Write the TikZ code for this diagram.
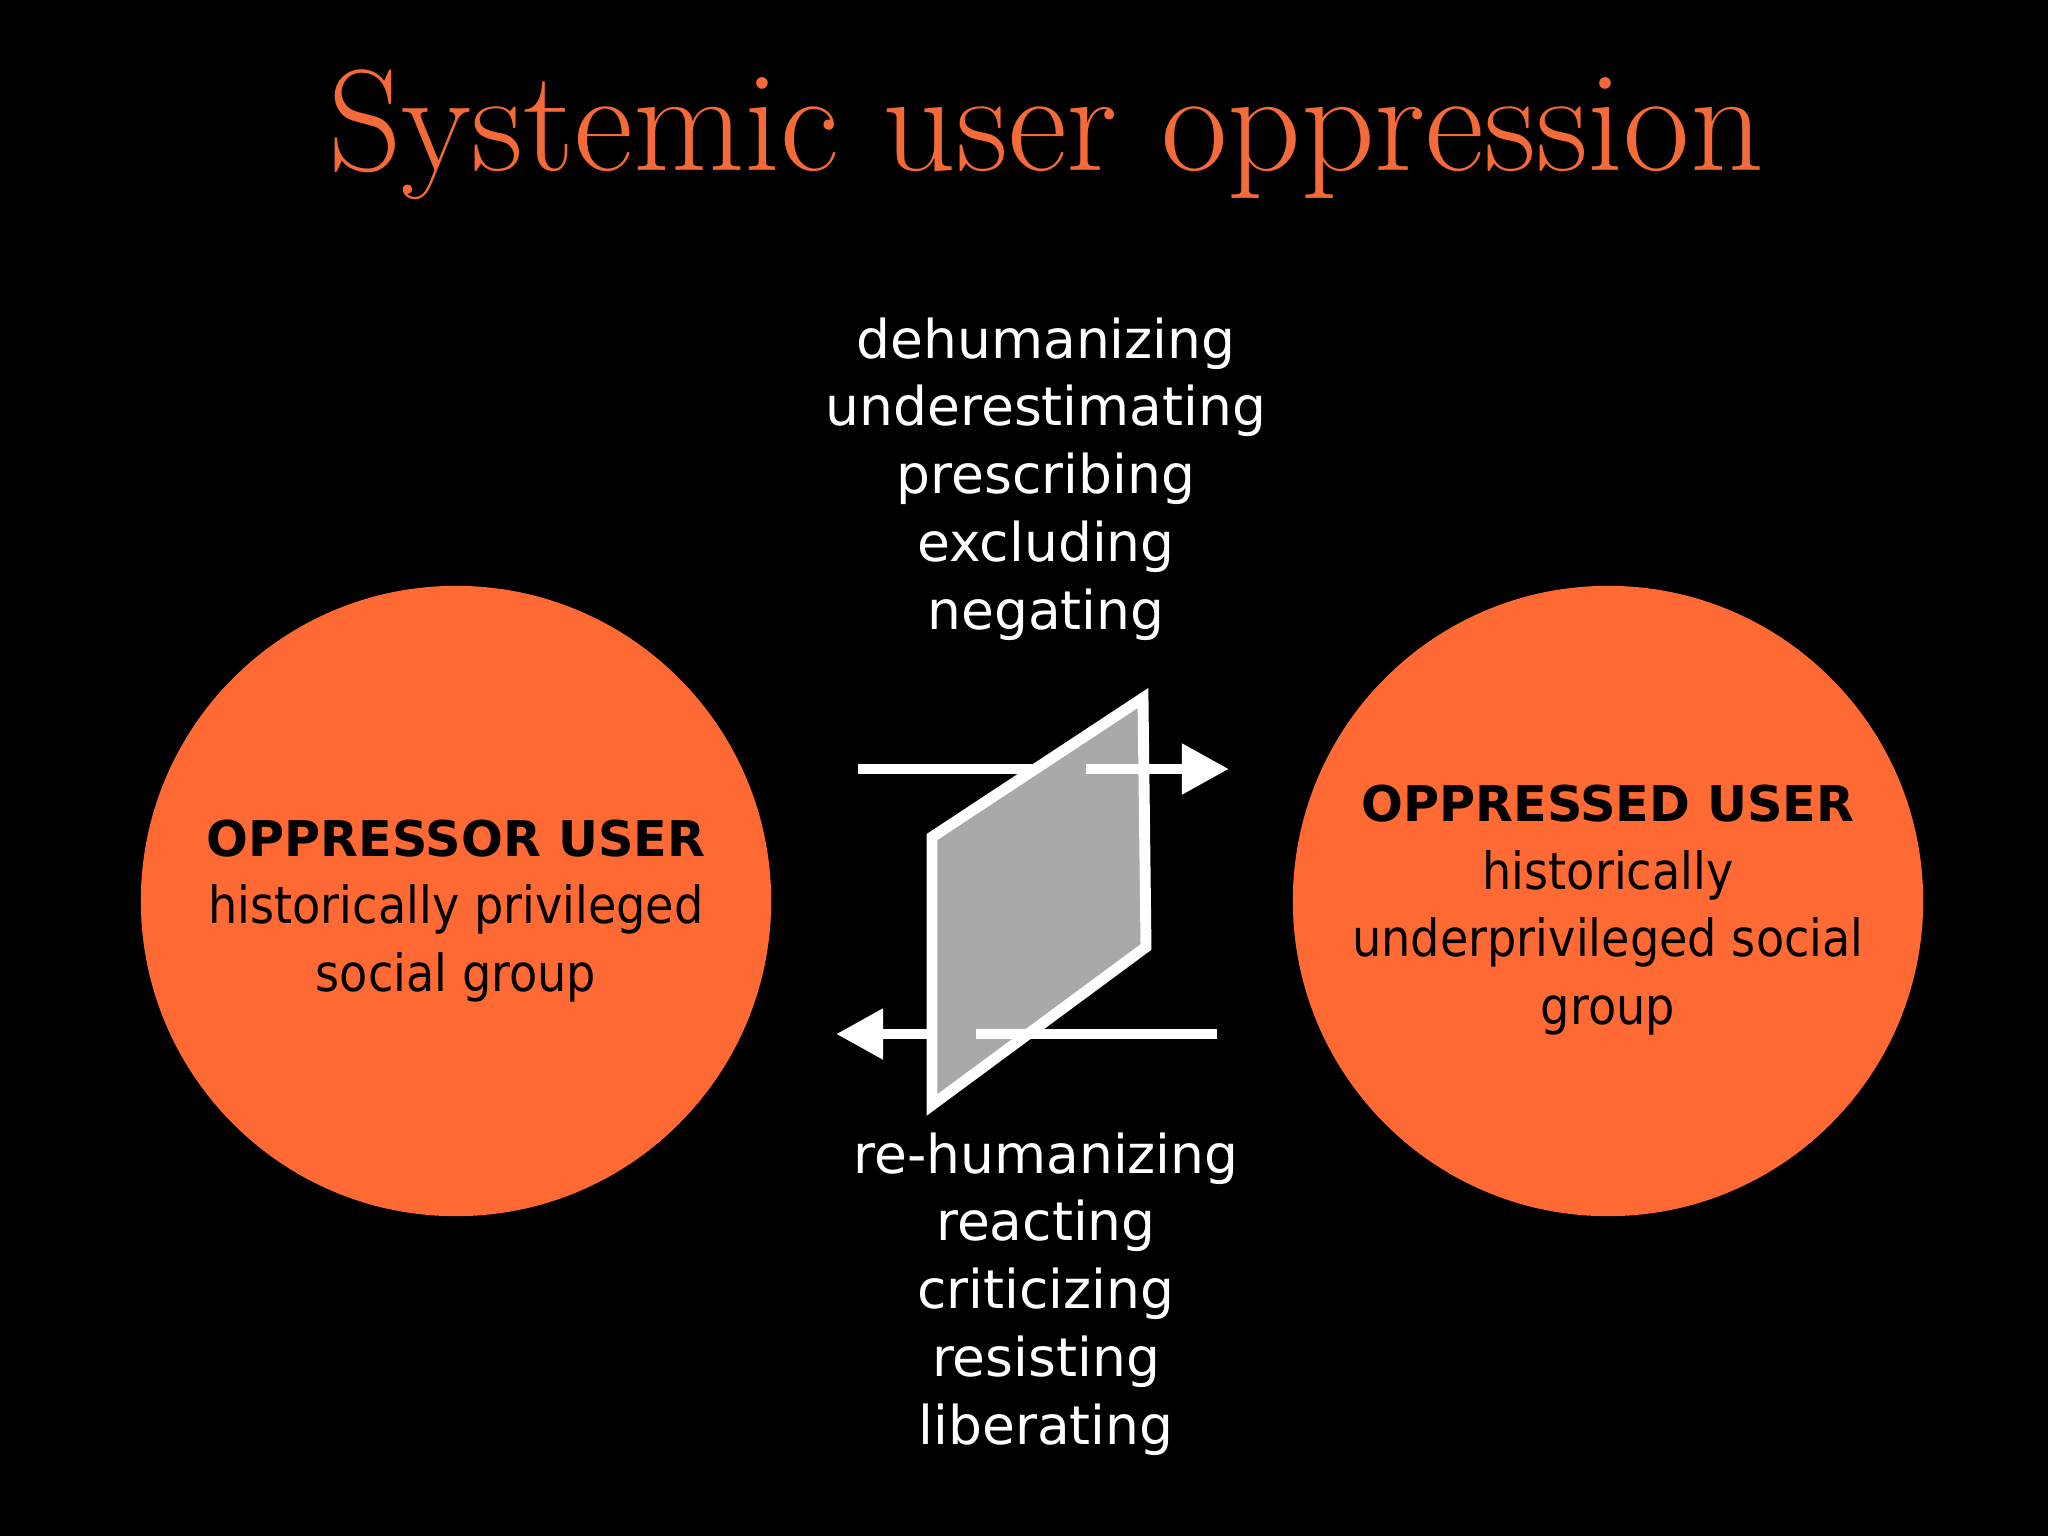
\documentclass[tikz,border=0pt]{standalone}
\usepackage{fontspec}
\newfontfamily\verdfont{DejaVu Sans}
\newfontfamily\tahfont{DejaVu Sans Condensed}
\usetikzlibrary{arrows.meta}
\definecolor{oppOrange}{RGB}{255,105,52}
\definecolor{titleOrange}{RGB}{244,106,56}
\definecolor{planeGray}{RGB}{167,169,170}
\newcommand{\groupname}[1]{{\verdfont\bfseries\fontsize{14}{19.2}\selectfont #1}}

\begin{document}
\begin{tikzpicture} [x = 0.01cm, y = -0.01cm,
group/.style = {circle, fill = oppOrange, minimum size = 6.3cm, inner sep = 0pt},
grouptext/.style = {align = center, font = \tahfont\fontsize{14.6}{19.2}\selectfont},
verbs/.style = {align = center, text = white, font = \verdfont\fontsize{15.2}{19.3}\selectfont},
flow/.style = {white, line width = 3.1pt},
head/.style = {-{Triangle[length = 4.7mm, width = 4.8mm]}}]

\fill [black] (0,0) rectangle (2048,1536);
\useasboundingbox (0,0) rectangle (2048,1536);

\node (title) [anchor = base, text = titleOrange, font = \fontsize{41}{48}\selectfont] at (1046,170) {Systemic user oppression};

\node (oppressor) [group] at (456,901) {};
\node (oppressed) [group] at (1608,901) {};
\node (oppressorText) [grouptext] at (456,911) {\groupname{OPPRESSOR USER}\\historically privileged\\social group};
\node (oppressedText) [grouptext] at (1608,910) {\groupname{OPPRESSED USER}\\historically\\underprivileged social\\group};

\node (harm) [verbs] at (1046,479) {dehumanizing\\underestimating\\prescribing\\excluding\\negating};
\node (resist) [verbs] at (1046,1294) {re-humanizing\\reacting\\criticizing\\resisting\\liberating};

\coordinate (planeA) at (932,837);
\coordinate (planeB) at (1143,698);
\coordinate (planeC) at (1146,947);
\coordinate (planeD) at (932,1105);

\coordinate (outStart) at (858,769);
\coordinate (outBehind) at (1100,769);
\coordinate (outFront) at (1086,769);
\coordinate (outEnd) at (1229,769);
\coordinate (backStart) at (1217,1034);
\coordinate (backFront) at (976,1034);
\coordinate (backBehind) at (1000,1034);
\coordinate (backEnd) at (836,1034);

\draw [flow] (outStart) -- (outBehind);
\draw [flow, head] (backBehind) -- (backEnd);
\draw [white, line width = 3.1pt, fill = planeGray] (planeA) -- (planeB) -- (planeC) -- (planeD) -- cycle;
\draw [flow, head] (outFront) -- (outEnd);
\draw [flow] (backStart) -- (backFront);
\end{tikzpicture}
\end{document}
